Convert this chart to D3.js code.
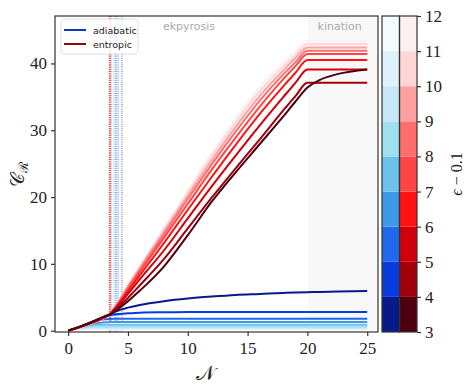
<!DOCTYPE html>
<html lang="en">
<head>
<meta charset="UTF-8">
<script src="https://d3js.org/d3.v7.min.js"></script>
<title>C_R vs N</title>
<style>
  body { margin: 0; background: #fff; }
</style>
</head>
<body>
<div id="chart"></div>
<script>
// e-folding grid shared by every curve
const nGrid = [0, 1, 2, 3, 3.5, 4, 5, 6, 8, 10, 12, 14, 16, 18, 19, 20, 21, 22.5, 25];

// epsilon levels (colorbar bins start values)
const epsLevels = [3, 4, 5, 6, 7, 8, 9, 10, 11];

const blueColors = ["#08198a", "#0a3be0", "#2069ee", "#3c99e6", "#6cc2ec", "#a0dfec", "#c7e6f6", "#dff1fa", "#f4fbfe"];
const redColors  = ["#4d0010", "#a0000a", "#d0000a", "#ff1212", "#ff4646", "#ff6d6d", "#ffa0a0", "#ffd6d6", "#fff0f0"];

// entropic curves, one row per epsilon level
const entropicC = [
  [0, 0.6, 1.3, 2.1, 2.45, 3.0, 4.4, 6.0, 9.6, 14.3, 19.3, 23.7, 27.9, 32.1, 34.3, 36.4, 37.5, 38.4, 39.1],
  [0, 0.6, 1.3, 2.05, 2.45, 3.2, 4.9, 6.8, 10.7, 15.3, 19.9, 24.3, 28.6, 33.0, 35.1, 37.1, 37.1, 37.1, 37.1],
  [0, 0.58, 1.25, 2.0, 2.5, 3.4, 5.5, 7.7, 12.0, 16.8, 21.6, 26.2, 30.7, 35.0, 37.1, 39.1, 39.1, 39.1, 39.1],
  [0, 0.57, 1.22, 1.98, 2.5, 3.5, 5.9, 8.3, 13.1, 18.1, 23.0, 27.8, 32.4, 36.6, 38.6, 40.5, 40.5, 40.5, 40.5],
  [0, 0.56, 1.2, 1.96, 2.5, 3.6, 6.2, 8.8, 13.9, 19.0, 24.1, 28.9, 33.5, 37.7, 39.6, 41.4, 41.4, 41.4, 41.4],
  [0, 0.55, 1.18, 1.94, 2.52, 3.65, 6.4, 9.1, 14.4, 19.7, 24.9, 29.8, 34.4, 38.4, 40.2, 41.9, 41.9, 41.9, 41.9],
  [0, 0.55, 1.17, 1.93, 2.54, 3.7, 6.6, 9.4, 14.8, 20.2, 25.5, 30.5, 35.1, 39.0, 40.8, 42.4, 42.4, 42.4, 42.4],
  [0, 0.54, 1.16, 1.92, 2.56, 3.75, 6.7, 9.5, 15.1, 20.6, 26.1, 31.2, 35.8, 39.6, 41.3, 42.9, 42.9, 42.9, 42.9],
  [0, 0.54, 1.15, 1.9, 2.58, 3.8, 6.8, 9.6, 15.3, 21.0, 26.6, 31.8, 36.4, 40.2, 41.9, 43.4, 43.4, 43.4, 43.4]
];

// adiabatic curves, one row per epsilon level
const adiabaticC = [
  [0, 0.6, 1.3, 2.1, 2.45, 2.9, 3.45, 3.85, 4.4, 4.8, 5.1, 5.35, 5.5, 5.65, 5.7, 5.75, 5.8, 5.85, 5.93],
  [0, 0.6, 1.3, 2.05, 2.3, 2.45, 2.6, 2.7, 2.75, 2.78, 2.8, 2.8, 2.8, 2.8, 2.8, 2.8, 2.8, 2.8, 2.8],
  [0, 0.55, 1.2, 1.7, 1.76, 1.78, 1.8, 1.8, 1.8, 1.8, 1.8, 1.8, 1.8, 1.8, 1.8, 1.8, 1.8, 1.8, 1.8],
  [0, 0.55, 1.1, 1.25, 1.28, 1.3, 1.3, 1.3, 1.3, 1.3, 1.3, 1.3, 1.3, 1.3, 1.3, 1.3, 1.3, 1.3, 1.3],
  [0, 0.5, 0.85, 0.9, 0.9, 0.9, 0.9, 0.9, 0.9, 0.9, 0.9, 0.9, 0.9, 0.9, 0.9, 0.9, 0.9, 0.9, 0.9],
  [0, 0.45, 0.6, 0.62, 0.62, 0.62, 0.62, 0.62, 0.62, 0.62, 0.62, 0.62, 0.62, 0.62, 0.62, 0.62, 0.62, 0.62, 0.62],
  [0, 0.35, 0.42, 0.42, 0.42, 0.42, 0.42, 0.42, 0.42, 0.42, 0.42, 0.42, 0.42, 0.42, 0.42, 0.42, 0.42, 0.42, 0.42],
  [0, 0.25, 0.28, 0.28, 0.28, 0.28, 0.28, 0.28, 0.28, 0.28, 0.28, 0.28, 0.28, 0.28, 0.28, 0.28, 0.28, 0.28, 0.28],
  [0, 0.15, 0.17, 0.17, 0.17, 0.17, 0.17, 0.17, 0.17, 0.17, 0.17, 0.17, 0.17, 0.17, 0.17, 0.17, 0.17, 0.17, 0.17]
];

// transition e-folds marked by dotted vertical lines
const redVlines  = [3.43, 3.47, 3.5, 3.53, 3.56, 3.58, 3.6, 3.62, 3.64];
const blueVlines = [4.5, 4.18, 4.05, 3.96, 3.89, 3.83, 3.78, 3.74, 3.7];

const kinationStart = 20;
const xTicks = [0, 5, 10, 15, 20, 25];
const yTicks = [0, 10, 20, 30, 40];
const cbTicks = [3, 4, 5, 6, 7, 8, 9, 10, 11, 12];

const W = 474, H = 389;
const plot = { left: 55, right: 378, top: 16, bottom: 332 };
const cb = { x0: 382, x1: 399.5, x2: 417, top: 16, bottom: 332 };
const serif = "'Liberation Serif', 'DejaVu Serif', serif";
const sans = "'DejaVu Sans', sans-serif";
const axisCol = "#333";

const svg = d3.select("#chart").append("svg")
  .attr("width", W).attr("height", H);

const x = d3.scaleLinear().domain([-1.1, 25.9]).range([plot.left, plot.right]);
const y = d3.scaleLinear().domain([-0.2, 47.1]).range([plot.bottom, plot.top]);

svg.append("defs").append("clipPath").attr("id", "clip")
  .append("rect")
  .attr("x", plot.left).attr("y", plot.top)
  .attr("width", plot.right - plot.left).attr("height", plot.bottom - plot.top);

// kination shading
svg.append("rect")
  .attr("x", x(kinationStart)).attr("y", plot.top)
  .attr("width", plot.right - x(kinationStart)).attr("height", plot.bottom - plot.top)
  .attr("fill", "#f8f8f9");

const g = svg.append("g").attr("clip-path", "url(#clip)");

// dotted vertical markers
const vl = g.append("g");
for (let k = blueVlines.length - 1; k >= 0; k--) {
  vl.append("line")
    .attr("x1", x(blueVlines[k])).attr("x2", x(blueVlines[k]))
    .attr("y1", plot.top).attr("y2", plot.bottom)
    .attr("stroke", blueColors[k]).attr("stroke-width", 0.9)
    .attr("stroke-dasharray", "1,1.2")
    .attr("opacity", 0.75);
}
for (let k = redVlines.length - 1; k >= 0; k--) {
  vl.append("line")
    .attr("x1", x(redVlines[k])).attr("x2", x(redVlines[k]))
    .attr("y1", plot.top).attr("y2", plot.bottom)
    .attr("stroke", redColors[k]).attr("stroke-width", 0.9)
    .attr("stroke-dasharray", "1,1.2")
    .attr("opacity", 0.5);
}

const line = d3.line()
  .x((d, i) => x(nGrid[i]))
  .y(d => y(d))
  .curve(d3.curveMonotoneX);

// adiabatic curves, palest first
for (let k = epsLevels.length - 1; k >= 0; k--) {
  g.append("path")
    .attr("d", line(adiabaticC[k]))
    .attr("fill", "none")
    .attr("stroke", blueColors[k])
    .attr("stroke-width", 2);
}
// entropic curves, palest first
for (let k = epsLevels.length - 1; k >= 0; k--) {
  g.append("path")
    .attr("d", line(entropicC[k]))
    .attr("fill", "none")
    .attr("stroke", redColors[k])
    .attr("stroke-width", 2);
}

// phase labels
svg.append("text")
  .attr("x", x(10.1)).attr("y", 30)
  .attr("text-anchor", "middle")
  .attr("font-family", sans).attr("font-size", 11)
  .attr("fill", "#aaa")
  .text("ekpyrosis");
svg.append("text")
  .attr("x", x(22.7)).attr("y", 30)
  .attr("text-anchor", "middle")
  .attr("font-family", sans).attr("font-size", 11)
  .attr("fill", "#aaa")
  .text("kination");

// frame
svg.append("rect")
  .attr("x", plot.left).attr("y", plot.top)
  .attr("width", plot.right - plot.left).attr("height", plot.bottom - plot.top)
  .attr("fill", "none").attr("stroke", axisCol).attr("stroke-width", 1.2);

// axes
const xAxis = svg.append("g")
  .attr("transform", `translate(0,${plot.bottom})`)
  .call(d3.axisBottom(x).tickValues(xTicks).tickSize(4).tickPadding(6).tickFormat(d3.format("d")));
const yAxis = svg.append("g")
  .attr("transform", `translate(${plot.left},0)`)
  .call(d3.axisLeft(y).tickValues(yTicks).tickSize(4).tickPadding(4).tickFormat(d3.format("d")));
[xAxis, yAxis].forEach(a => {
  a.select(".domain").remove();
  a.selectAll(".tick line").attr("stroke", axisCol).attr("stroke-width", 1.2);
  a.selectAll(".tick text")
    .attr("font-family", serif).attr("font-size", 17).attr("fill", "#222");
});

// axis labels
svg.append("text")
  .attr("x", x(11.5)).attr("y", 380)
  .attr("text-anchor", "middle")
  .attr("font-family", "'DejaVu Serif', serif").attr("font-size", 20)
  .attr("fill", "#222")
  .text("\u{1D4A9}");
svg.append("text")
  .attr("transform", `translate(24,${(plot.top + plot.bottom) / 2}) rotate(-90)`)
  .attr("text-anchor", "middle")
  .attr("font-family", "'DejaVu Serif', serif").attr("font-size", 19)
  .attr("fill", "#222")
  .text("\u{1D49E}")
  .append("tspan")
  .attr("dy", 4).attr("font-size", 13)
  .text("\u211B");

// legend
const lg = svg.append("g");
lg.append("rect")
  .attr("x", 61).attr("y", 19).attr("width", 77).attr("height", 35)
  .attr("rx", 2.5)
  .attr("fill", "#fff").attr("fill-opacity", 0.85)
  .attr("stroke", "#d8d8d8").attr("stroke-width", 0.8);
const legendItems = [
  { label: "adiabatic", color: "#1232b8", yy: 30 },
  { label: "entropic", color: "#8e0a0a", yy: 44 }
];
legendItems.forEach(it => {
  lg.append("line")
    .attr("x1", 64).attr("x2", 86).attr("y1", it.yy).attr("y2", it.yy)
    .attr("stroke", it.color).attr("stroke-width", 2);
  lg.append("text")
    .attr("x", 93).attr("y", it.yy + 3.5)
    .attr("font-family", sans).attr("font-size", 9.5)
    .attr("fill", "#222")
    .text(it.label);
});

// colorbar
const cbY = d3.scaleLinear().domain([3, 12]).range([cb.bottom, cb.top]);
const cbg = svg.append("g");
epsLevels.forEach((e, k) => {
  cbg.append("rect")
    .attr("x", cb.x0).attr("y", cbY(e + 1))
    .attr("width", cb.x1 - cb.x0).attr("height", cbY(e) - cbY(e + 1))
    .attr("fill", blueColors[k]);
  cbg.append("rect")
    .attr("x", cb.x1).attr("y", cbY(e + 1))
    .attr("width", cb.x2 - cb.x1).attr("height", cbY(e) - cbY(e + 1))
    .attr("fill", redColors[k]);
});
[[cb.x0, cb.x1], [cb.x1, cb.x2]].forEach(([a, b]) => {
  cbg.append("rect")
    .attr("x", a).attr("y", cb.top)
    .attr("width", b - a).attr("height", cb.bottom - cb.top)
    .attr("fill", "none").attr("stroke", axisCol).attr("stroke-width", 1.2);
});
const cbAxis = svg.append("g")
  .attr("transform", `translate(${cb.x2},0)`)
  .call(d3.axisRight(cbY).tickValues(cbTicks).tickSize(4).tickPadding(4).tickFormat(d3.format("d")));
cbAxis.select(".domain").remove();
cbAxis.selectAll(".tick line").attr("stroke", axisCol).attr("stroke-width", 1.2);
cbAxis.selectAll(".tick text")
  .attr("font-family", serif).attr("font-size", 17).attr("fill", "#222");

svg.append("text")
  .attr("transform", `translate(462,${(cb.top + cb.bottom) / 2}) rotate(-90)`)
  .attr("text-anchor", "middle")
  .attr("font-family", serif).attr("font-size", 16)
  .attr("fill", "#222")
  .html("<tspan font-style='italic'>\u03F5</tspan> \u2212 0.1");
</script>
</body>
</html>
